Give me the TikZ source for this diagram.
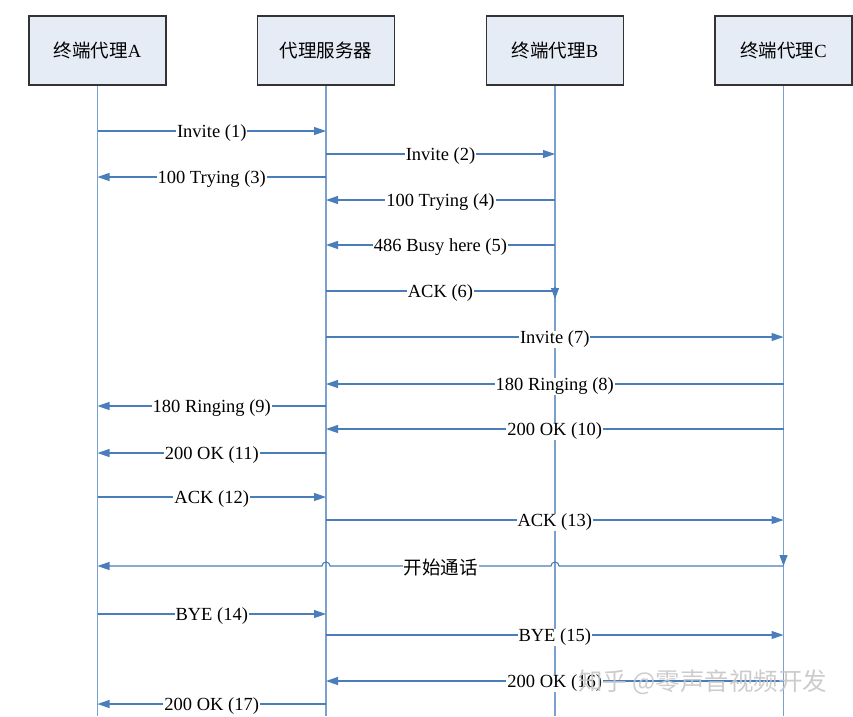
\documentclass[tikz,border=0pt]{standalone}
\usepackage{fontspec}
\setmainfont{Liberation Serif}
\newfontfamily\cjk{Noto Sans CJK SC}
\usetikzlibrary{arrows.meta,calc}
\definecolor{boxfill}{HTML}{E6ECF5}
\definecolor{msgblue}{HTML}{4A7EBB}
\definecolor{lifeblue}{HTML}{7AA0CE}
\newcommand{\msgarrow}[4]{\draw[msg] (#1 |- #3) -- node[lbl]{#4} (#2 |- #3);}
\begin{document}
\begin{tikzpicture}[x=1pt,y=-1pt,
  actor/.style={draw=black!80, line width=1.1pt, fill=boxfill,
    minimum width=137pt, minimum height=69pt, inner sep=0pt,
    font=\fontsize{18.5}{22}\selectfont},
  life/.style={draw=lifeblue, line width=1.2pt},
  msgline/.style={draw=msgblue, line width=1.1pt},
  msg/.style={msgline, -{Triangle[length=12pt,width=8pt]}},
  downtip/.style={draw=msgblue, line width=1.1pt, -{Triangle[length=11pt,width=8pt]}},
  lbl/.style={fill=white, inner xsep=1pt, inner ysep=0pt, text=black, yshift=-2.4pt,
    font=\fontsize{18.5}{22}\selectfont},
  cjklbl/.style={fill=white, inner xsep=1pt, inner ysep=0pt, text=black, yshift=-1pt,
    font=\cjk\fontsize{18.5}{22}\selectfont},
  wmark/.style={text=gray!45, opacity=0.9, inner sep=0pt,
    font=\cjk\fontsize{24.5}{28}\selectfont}
]
\useasboundingbox (0,0) rectangle (853,716);

% actors
\node[actor] (A) at (97.5,50.5) {{\cjk 终端代理}A};
\node[actor] (P) at (326,50.5) {{\cjk 代理服务器}};
\node[actor] (B) at (555,50.5) {{\cjk 终端代理}B};
\node[actor] (C) at (783.5,50.5) {{\cjk 终端代理}C};

% lifelines
\coordinate (bot) at (0,716);
\foreach \n in {A,P,B,C}
  \draw[life] (\n.south) -- (\n.south |- bot);

% message rows
\foreach \n/\yy in {1/131,2/154,3/177,4/200,5/245,6/291,7/337,8/384,9/406,
  10/429,11/453,12/497,13/520,14/566,15/614,16/635,17/681,18/704}
  \coordinate (y\n) at (0,\yy);

\msgarrow{A}{P}{y1}{Invite (1)}
\msgarrow{P}{B}{y2}{Invite (2)}
\msgarrow{P}{A}{y3}{100 Trying (3)}
\msgarrow{B}{P}{y4}{100 Trying (4)}
\msgarrow{B}{P}{y5}{486 Busy here (5)}
\draw[msgline] (P |- y6) -- node[lbl]{ACK (6)} (B |- y6);
\draw[downtip] ($(B |- y6)+(0,-4)$) -- ($(B |- y6)+(0,8)$);
\msgarrow{P}{C}{y7}{Invite (7)}
\msgarrow{C}{P}{y8}{180 Ringing (8)}
\msgarrow{P}{A}{y9}{180 Ringing (9)}
\msgarrow{C}{P}{y10}{200 OK (10)}
\msgarrow{P}{A}{y11}{200 OK (11)}
\msgarrow{A}{P}{y12}{ACK (12)}
\msgarrow{P}{C}{y13}{ACK (13)}

% call start: line with jump-overs
\draw[msg] (C |- y14) -- ($(B |- y14)+(4,0)$)
  arc[start angle=0,end angle=180,radius=4pt]
  -- node[cjklbl]{开始通话} ($(P |- y14)+(4,0)$)
  arc[start angle=0,end angle=180,radius=4pt]
  -- (A |- y14);
\draw[downtip] ($(C |- y14)+(0,-11)$) -- (C |- y14);

\msgarrow{A}{P}{y15}{BYE (14)}
\msgarrow{P}{C}{y16}{BYE (15)}
\msgarrow{C}{P}{y17}{200 OK (16)}
\msgarrow{P}{A}{y18}{200 OK (17)}

% watermark
\node[wmark, anchor=west] (wm) at (578,682) {知乎 @零声音视频开发};
\end{tikzpicture}
\end{document}
